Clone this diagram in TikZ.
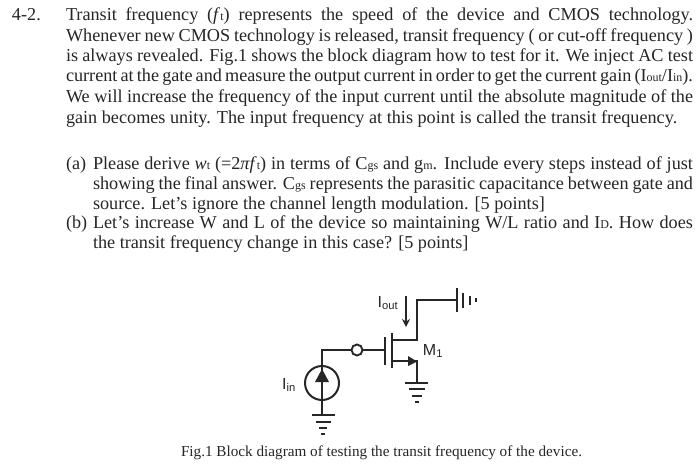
\documentclass[tikz,border=0pt]{standalone}
\usepackage{fontspec}
\setmainfont{Liberation Serif}
\newfontfamily\lblfont{Liberation Sans}
\usetikzlibrary{arrows.meta}
\definecolor{ink}{HTML}{262626}
\newcommand{\sm}[1]{{\fontsize{12}{12}\selectfont #1}}
\tikzset{
  para/.style={anchor=base west,inner sep=0pt,outer sep=0pt,text=ink,font=\fontsize{18.2}{18.2}\selectfont},
  figcaption/.style={para,font=\fontsize{15.2}{15.2}\selectfont},
  lbl/.style={inner sep=0pt,text=ink,font=\lblfont\fontsize{16}{16}\selectfont},
  wire/.style={draw=ink,line width=2pt},
  thinwire/.style={draw=ink,line width=1.5pt},
  plate/.style={draw=ink,line width=2.6pt},
  gbar/.style={draw=ink,line width=2.2pt},
}
\begin{document}
\begin{tikzpicture}[x=1pt,y=-1pt]
\useasboundingbox[fill=white] (0,0) rectangle (700,473);
\node[para] (num) at (12,21) {4-2.};
\node[para] (l1) at (66,21) {\makebox[627pt][s]{Transit frequency (\textit{f}\sm{t}) represents the speed of the device and CMOS technology.}};
\node[para] (l2) at (66,41.5) {\makebox[627pt][s]{Whenever new CMOS technology is released, transit frequency ( or cut-off frequency )}};
\node[para] (l3) at (66,62) {\makebox[627pt][s]{is always revealed. Fig.1 shows the block diagram how to test for it. We inject AC test}};
\node[para] (l4) at (66,82) {\makebox[627pt][s]{current at the gate and measure the output current in order to get the current gain (I\sm{out}/I\sm{in}).}};
\node[para] (l5) at (66,103) {\makebox[627pt][s]{We will increase the frequency of the input current until the absolute magnitude of the}};
\node[para] (l6) at (66,124) {gain becomes unity. The input frequency at this point is called the transit frequency.};
\node[para] (a1l) at (66,169) {(a)};
\node[para] (a1) at (93,169) {\makebox[600pt][s]{Please derive \textit{w}\sm{t} (=2\textit{πf}\sm{t}) in terms of C\sm{gs} and g\sm{m}. Include every steps instead of just}};
\node[para] (a2) at (93,189) {\makebox[600pt][s]{showing the final answer. C\sm{gs} represents the parasitic capacitance between gate and}};
\node[para] (a3) at (93,209) {source. Let’s ignore the channel length modulation. [5 points]};
\node[para] (b1l) at (66,228) {(b)};
\node[para] (b1) at (93,228) {\makebox[600pt][s]{Let’s increase W and L of the device so maintaining W/L ratio and I\sm{D}. How does}};
\node[para] (b2) at (93,248) {the transit frequency change in this case? [5 points]};
\node[figcaption] (capt) at (181,456) {Fig.1 Block diagram of testing the transit frequency of the device.};
% circuit
\node[lbl] (iout) at (388,303) {I\textsubscript{out}};
\node[lbl] (iin) at (289,385) {I\textsubscript{in}};
\node[lbl] (m1) at (433,351) {M\textsubscript{1}};
\coordinate (dtop) at (417,300);
\coordinate (vp1) at (457,300);
\coordinate (dch) at (392,340);
\coordinate (dcor) at (417,340);
\coordinate (sch) at (392,361);
\coordinate (scor) at (417,361);
\coordinate (sgnd) at (417,383);
\coordinate (gp) at (385,350);
\node[circle,draw=ink,line width=1.9pt,minimum size=11pt,inner sep=0pt] (port) at (357,350) {};
\coordinate (icor) at (322,350);
\node[circle,draw=ink,line width=2pt,minimum size=34pt,inner sep=0pt] (src) at (322,383) {};
\coordinate (ignd) at (322,415);
\coordinate (arrA) at (406,296);
\coordinate (arrB) at (406,327);
% wires
\draw[wire,line cap=rect] (dch) -- (dcor) -- (dtop) -- (vp1);
\draw[wire] (gp) -- (port);
\draw[wire] (port) -- (icor) -- (src.north);
\draw[wire] (ignd) -- (src.south);
\draw[wire] (src.south) -- (src.north);
\draw[wire] (sch) -- (scor) -- (sgnd);
\fill[ink] (408,356) -- (417,361.5) -- (408,366) -- cycle;
\fill[ink] (322,369) -- (329,382) -- (315,382) -- cycle;
\draw[plate] (392,333) -- (392,368);
\draw[plate] (385,337) -- (385,365);
\draw[thinwire,-{Stealth[length=8pt,width=8pt]}] (arrA) -- (arrB);
% vdd plates
\draw[plate] (457,288) -- (457,312);
\draw[plate] (463,293) -- (463,308);
\draw[plate] (470,296) -- (470,305);
\draw[plate] (476,298) -- (476,302);
% grounds
\draw[gbar] (405,383) -- (428,383);
\draw[gbar] (409,389) -- (425,389);
\draw[gbar] (412,396) -- (422,396);
\draw[gbar] (415,402) -- (419,402);
\draw[gbar] (312,415) -- (335,415);
\draw[gbar] (316,422) -- (331,422);
\draw[gbar] (319,428) -- (327,428);
\draw[gbar] (321,434) -- (325,434);
\end{tikzpicture}
\end{document}
